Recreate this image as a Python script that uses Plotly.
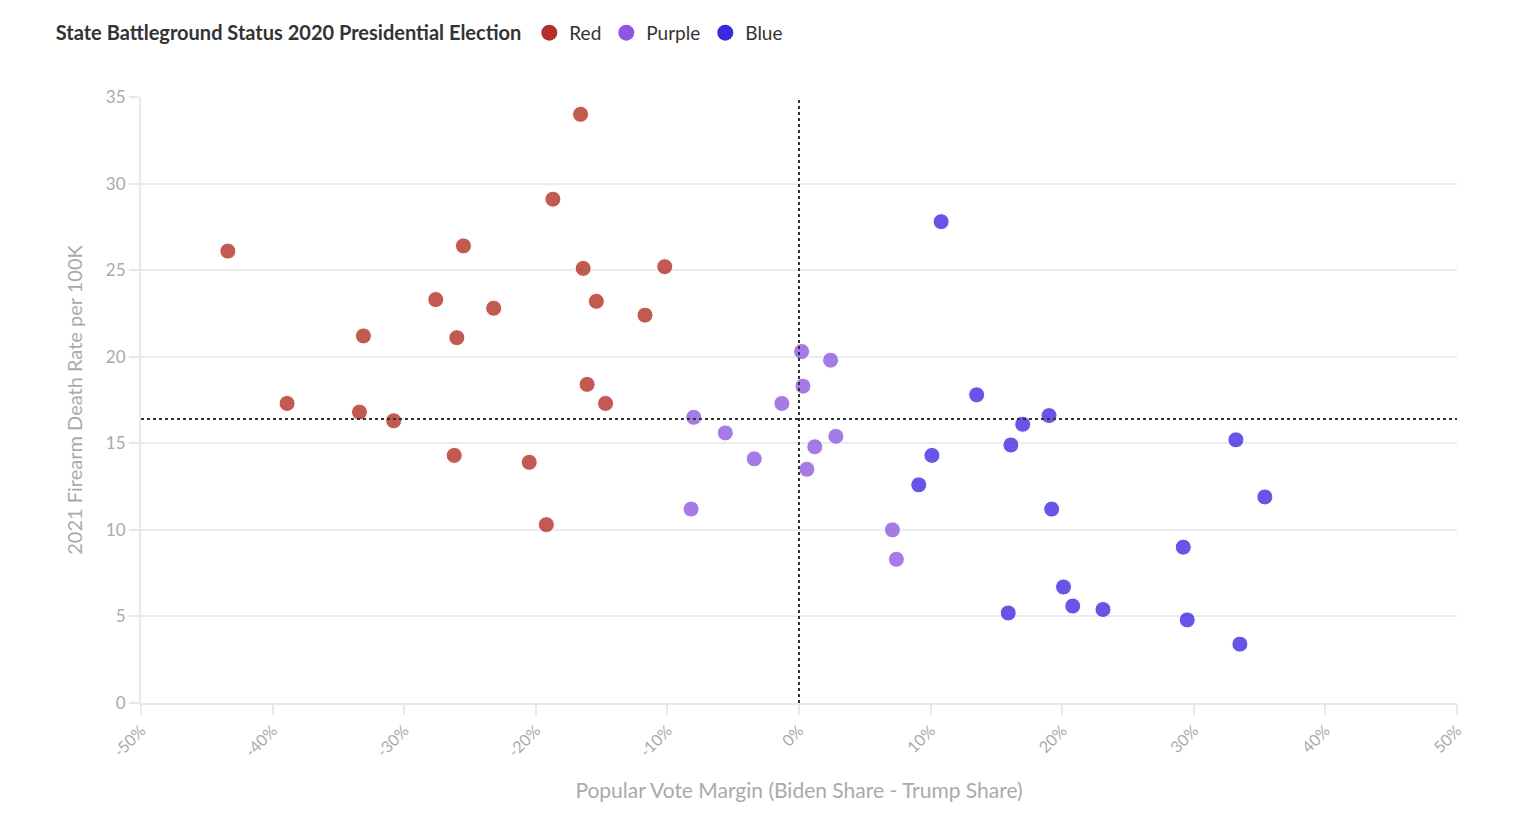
import plotly.graph_objects as go

red_x = [-16.6, -18.7, -43.4, -25.5, -16.4, -10.2, -27.6, -23.2, -15.4, -11.7,
         -33.1, -26.0, -16.1, -38.9, -14.7, -33.4, -30.8, -26.2, -20.5, -19.2]
red_y = [34.0, 29.1, 26.1, 26.4, 25.1, 25.2, 23.3, 22.8, 23.2, 22.4,
         21.2, 21.1, 18.4, 17.3, 17.3, 16.8, 16.3, 14.3, 13.9, 10.3]

purple_x = [0.2, 2.4, 0.3, -1.3, -8.0, -5.6, 2.8, 1.2, -3.4, 0.6, -8.2, 7.1, 7.4]
purple_y = [20.3, 19.8, 18.3, 17.3, 16.5, 15.6, 15.4, 14.8, 14.1, 13.5, 11.2, 10.0, 8.3]

blue_x = [10.8, 13.5, 19.0, 17.0, 16.1, 10.1, 9.1, 33.2, 35.4, 19.2,
          29.2, 20.1, 20.8, 23.1, 15.9, 29.5, 33.5]
blue_y = [27.8, 17.8, 16.6, 16.1, 14.9, 14.3, 12.6, 15.2, 11.9, 11.2,
          9.0, 6.7, 5.6, 5.4, 5.2, 4.8, 3.4]

avg_rate = 16.4

x_ticks = [-50, -40, -30, -20, -10, 0, 10, 20, 30, 40, 50]
x_tick_text = ["-50%", "-40%", "-30%", "-20%", "-10%", "0%", "10%", "20%", "30%", "40%", "50%"]
y_ticks = [0, 5, 10, 15, 20, 25, 30, 35]

FONT = "Lato, 'Source Sans Pro', sans-serif"
GRAY = "#aaaaaa"

fig = go.Figure()
series = [
    ("Red", red_x, red_y, "rgba(179,49,39,0.8)", "#b3302a"),
    ("Purple", purple_x, purple_y, "rgba(142,90,224,0.8)", "#8f57e0"),
    ("Blue", blue_x, blue_y, "rgba(64,42,224,0.8)", "#3b28e0"),
]
for name, xs, ys, col, solid in series:
    fig.add_trace(go.Scatter(
        x=xs, y=ys, mode="markers", name=name, showlegend=False,
        marker=dict(size=16, color=col, line=dict(color="white", width=1)),
    ))
for name, xs, ys, col, solid in series:
    fig.add_trace(go.Scatter(
        x=[None], y=[None], mode="markers", name=name, showlegend=True,
        marker=dict(size=16, color=solid),
    ))

fig.add_shape(type="line", xref="x", yref="paper", x0=0, x1=0, y0=0, y1=1,
              line=dict(color="#333333", width=2, dash="dot"), layer="above")
fig.add_shape(type="line", xref="paper", yref="y", x0=0, x1=1, y0=avg_rate, y1=avg_rate,
              line=dict(color="#333333", width=2, dash="dot"), layer="above")

fig.update_layout(
    width=1536, height=821,
    margin=dict(l=141, r=79, t=97, b=118),
    paper_bgcolor="white", plot_bgcolor="white",
    font=dict(family=FONT, color=GRAY),
    showlegend=True,
    legend=dict(
        orientation="h", x=0.035, xref="container", y=0.96, yref="container",
        xanchor="left", yanchor="middle",
        title=dict(text="<b>State Battleground Status 2020 Presidential Election</b>",
                   font=dict(size=20, color="#333333", family=FONT)),
        font=dict(size=19, color="#333333", family=FONT),
        itemsizing="trace", itemwidth=30, tracegroupgap=0,
    ),
    xaxis=dict(
        range=[-50, 50], tickvals=x_ticks, ticktext=x_tick_text, tickangle=-45,
        tickfont=dict(size=16, color=GRAY),
        showgrid=False, zeroline=False,
        showline=True, linecolor="#e8e8e8", linewidth=2,
        ticks="outside", ticklen=10, tickcolor="#e8e8e8", tickwidth=2,
        title=dict(text="Popular Vote Margin (Biden Share - Trump Share)",
                   font=dict(size=21, color=GRAY), standoff=24),
    ),
    yaxis=dict(
        range=[0, 35], tickvals=y_ticks,
        tickfont=dict(size=17, color=GRAY),
        showgrid=True, gridcolor="#ececec", gridwidth=2, zeroline=False,
        showline=True, linecolor="#e8e8e8", linewidth=2,
        ticks="outside", ticklen=10, tickcolor="#e8e8e8", tickwidth=2,
        title=dict(text="2021 Firearm Death Rate per 100K",
                   font=dict(size=20, color=GRAY), standoff=18),
    ),
)

fig.write_html("out.html")
